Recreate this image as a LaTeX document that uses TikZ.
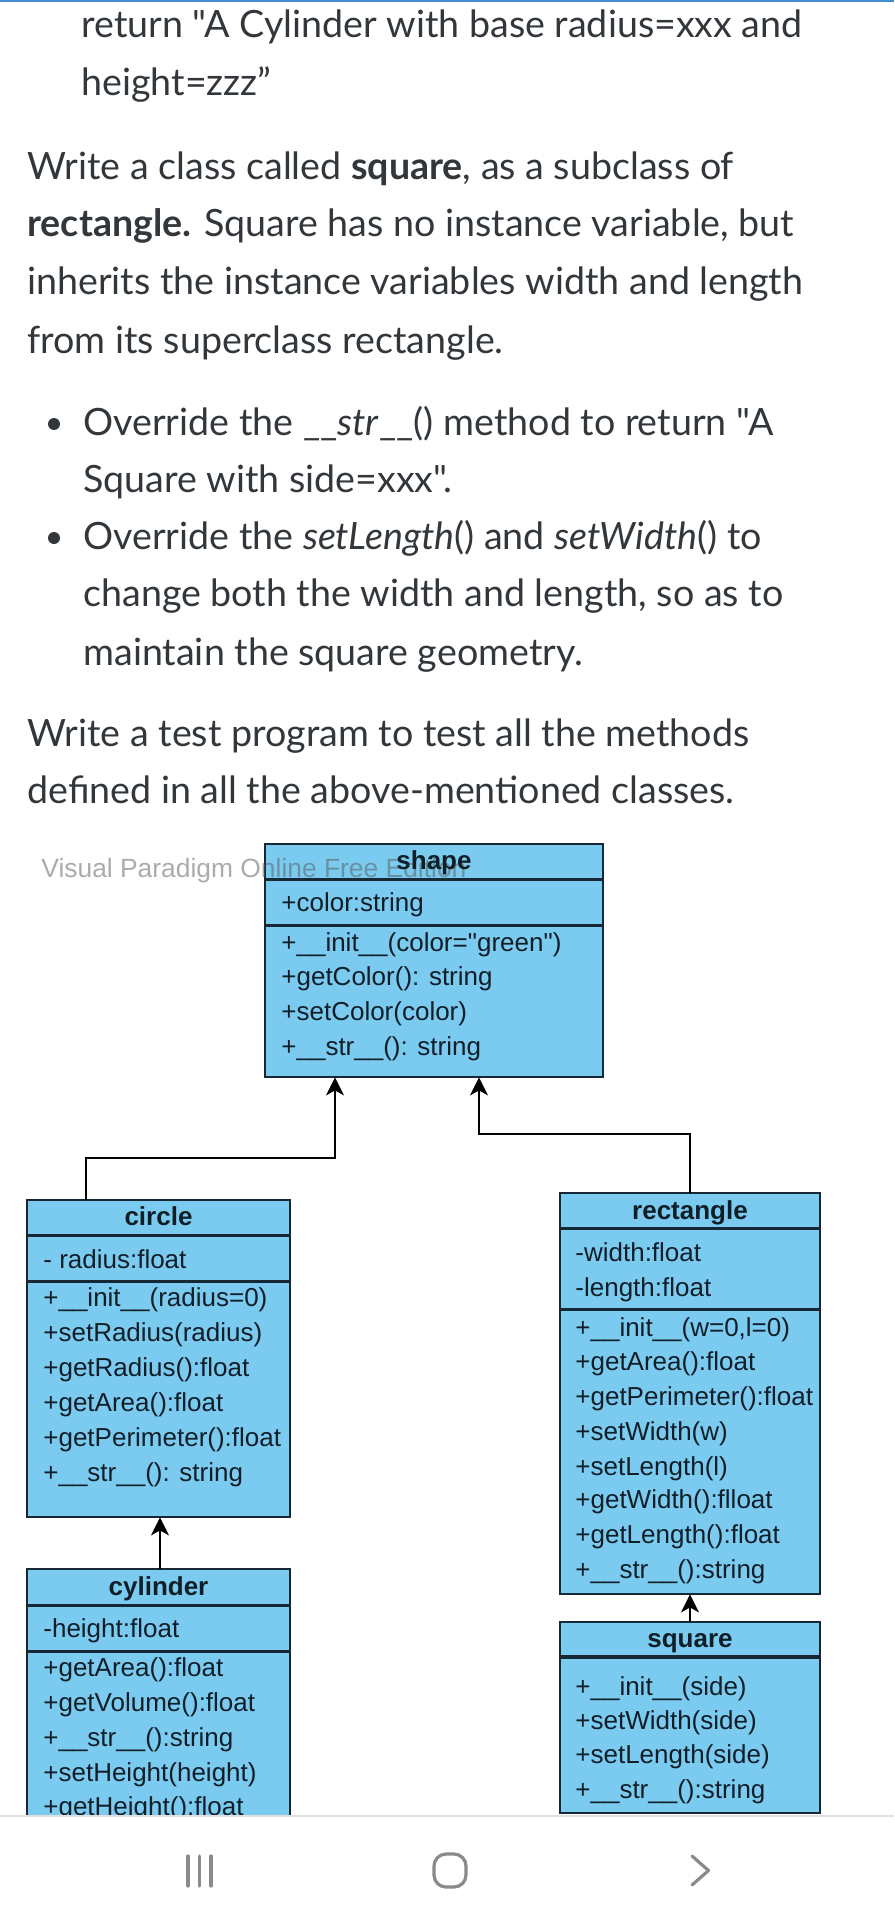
\documentclass[tikz,border=0pt]{standalone}
\usepackage{fontspec}
\setmainfont{Lato}[Ligatures=TeXOff]
\newfontfamily\umlfont{Liberation Sans}
\usetikzlibrary{arrows.meta}
\definecolor{txt}{RGB}{50,55,60}
\definecolor{umlfill}{RGB}{123,203,240}
\definecolor{umlline}{RGB}{22,40,52}
\definecolor{umltxt}{RGB}{16,30,40}
\definecolor{navgray}{RGB}{138,138,138}
\definecolor{topblue}{RGB}{66,140,210}
\begin{document}
\begin{tikzpicture}[x=0.5pt,y=-0.5pt,
  para/.style={anchor=base west,inner sep=0pt,text=txt,font=\fontsize{18.8pt}{22pt}\selectfont},
  uml/.style={anchor=base west,inner sep=0pt,text=umltxt,font=\umlfont\fontsize{13pt}{15pt}\selectfont},
  umltitle/.style={anchor=base,inner sep=0pt,text=umltxt,font=\umlfont\bfseries\fontsize{13pt}{15pt}\selectfont},
  classbox/.style={draw=umlline,fill=umlfill,line width=1.2pt},
  sep/.style={draw=umlline,line width=1.5pt},
  conn/.style={draw=black,line width=1pt},
  inh/.style={conn,-{Stealth[length=9pt,width=9pt,inset=2.5pt]}},
  navicon/.style={draw=navgray,line width=1.6pt,line cap=round,line join=round}]
\useasboundingbox (0,0) rectangle (894,1920);
\fill[white] (0,0) rectangle (894,1920);
\fill[topblue] (0,0) rectangle (894,2.5);

% ---------------- text ----------------
\node[para] (t1) at (81,38) {return "A Cylinder with base radius=xxx and};
\node[para] (t2) at (81,96) {height=zzz”};
\node[para] (t3) at (27,180) {Write a class called \textbf{square}, as a subclass of};
\node[para] (t4) at (27,237) {\textbf{rectangle.} Square has no instance variable, but};
\node[para] (t5) at (27,295) {inherits the instance variables width and length};
\node[para] (t6) at (27,353) {from its superclass rectangle.};
\fill[txt] (54,424) circle (6);
\node[para] (b1) at (83,435) {Override the \_\_\textit{str}\_\_() method to return "A};
\node[para] (b2) at (83,492) {Square with side=xxx".};
\fill[txt] (54,538) circle (6);
\node[para] (b3) at (83,549) {Override the \textit{setLength}() and \textit{setWidth}() to};
\node[para] (b4) at (83,606) {change both the width and length, so as to};
\node[para] (b5) at (83,665) {maintain the square geometry.};
\node[para] (t7) at (27,746) {Write a test program to test all the methods};
\node[para] (t8) at (27,803) {defined in all the above-mentioned classes.};

% ---------------- diagram (clipped above nav bar) ----------------
\begin{scope}
\clip (0,830) rectangle (894,1815);

% shape
\path[classbox] (265,844) rectangle (603,1077);
\node[inner sep=0pt] (shape) at (434,960.5) [minimum width=338*0.5pt,minimum height=233*0.5pt] {};
\draw[sep] (265,879) -- (603,879);
\draw[sep] (265,925) -- (603,925);
\node[uml] at (281,911) {+color:string};
\node[uml] at (281,951) {+\_\_init\_\_(color="green")};
\node[uml] at (281,985) {+getColor(): string};
\node[uml] at (281,1020) {+setColor(color)};
\node[uml] at (281,1055) {+\_\_str\_\_(): string};
% watermark
\node[anchor=base west,inner sep=0pt,text=black!65,text opacity=0.5,font=\umlfont\fontsize{13.2pt}{15pt}\selectfont] (wm) at (41,877) {Visual Paradigm Online Free Edition};
\node[umltitle] at (434,869) {shape};

% circle
\path[classbox] (27,1200) rectangle (290,1517);
\node[inner sep=0pt] (circle) at (158.5,1358.5) [minimum width=263*0.5pt,minimum height=317*0.5pt] {};
\draw[sep] (27,1235) -- (290,1235);
\draw[sep] (27,1281) -- (290,1281);
\node[umltitle] at (158.5,1225) {circle};
\node[uml] at (43,1268) {- radius:float};
\node[uml] at (43,1306) {+\_\_init\_\_(radius=0)};
\node[uml] at (43,1341) {+setRadius(radius)};
\node[uml] at (43,1376) {+getRadius():float};
\node[uml] at (43,1411) {+getArea():float};
\node[uml] at (43,1446) {+getPerimeter():float};
\node[uml] at (43,1481) {+\_\_str\_\_(): string};

% rectangle
\path[classbox] (560,1193) rectangle (820,1594);
\node[inner sep=0pt] (rect) at (690,1393.5) [minimum width=260*0.5pt,minimum height=401*0.5pt] {};
\draw[sep] (560,1228) -- (820,1228);
\draw[sep] (560,1309) -- (820,1309);
\node[umltitle] at (690,1219) {rectangle};
\node[uml] at (575,1261) {-width:float};
\node[uml] at (575,1296) {-length:float};
\node[uml] at (575,1336) {+\_\_init\_\_(w=0,l=0)};
\node[uml] at (575,1370) {+getArea():float};
\node[uml] at (575,1405) {+getPerimeter():float};
\node[uml] at (575,1440) {+setWidth(w)};
\node[uml] at (575,1475) {+setLength(l)};
\node[uml] at (575,1508) {+getWidth():flloat};
\node[uml] at (575,1543) {+getLength():float};
\node[uml] at (575,1578) {+\_\_str\_\_():string};

% cylinder
\path[classbox] (27,1569) rectangle (290,1900);
\node[inner sep=0pt] (cyl) at (158.5,1734.5) [minimum width=263*0.5pt,minimum height=331*0.5pt] {};
\draw[sep] (27,1605) -- (290,1605);
\draw[sep] (27,1651) -- (290,1651);
\node[umltitle] at (158.5,1595) {cylinder};
\node[uml] at (43,1637) {-height:float};
\node[uml] at (43,1676) {+getArea():float};
\node[uml] at (43,1711) {+getVolume():float};
\node[uml] at (43,1746) {+\_\_str\_\_():string};
\node[uml] at (43,1781) {+setHeight(height)};
\node[uml] at (43,1815) {+getHeight():float};

% square
\path[classbox] (560,1622) rectangle (820,1813);
\node[inner sep=0pt] (sq) at (690,1717.5) [minimum width=260*0.5pt,minimum height=191*0.5pt] {};
\draw[sep,line width=1.8pt] (560,1657) -- (820,1657);
\node[umltitle] at (690,1647) {square};
\node[uml] at (575,1695) {+\_\_init\_\_(side)};
\node[uml] at (575,1729) {+setWidth(side)};
\node[uml] at (575,1763) {+setLength(side)};
\node[uml] at (575,1798) {+\_\_str\_\_():string};

% connectors
\coordinate (c1) at (85.5,1158);
\coordinate (c2) at (335,1158);
\coordinate (r1) at (690,1134);
\coordinate (r2) at (479,1134);
\draw[inh] (circle.north -| c1) -- (c1) -- (c2) -- (c2 |- shape.south);
\draw[inh] (rect.north) -- (r1) -- (r2) -- (r2 |- shape.south);
\draw[inh] (cyl.north -| 160,0) -- (circle.south -| 160,0);
\draw[inh] (sq.north) -- (rect.south);
\end{scope}

% ---------------- nav bar ----------------
\fill[white] (0,1815) rectangle (894,1920);
\draw[draw=black!12,line width=1.2pt] (0,1816) -- (894,1816);
\draw[navicon] (188,1856) -- (188,1886);
\draw[navicon] (199.5,1856) -- (199.5,1886);
\draw[navicon] (211,1856) -- (211,1886);
\draw[navicon,rounded corners=6pt] (434,1854) rectangle (466,1887);
\draw[navicon] (692,1856) -- (708.5,1870.5) -- (692,1885);
\end{tikzpicture}
\end{document}
